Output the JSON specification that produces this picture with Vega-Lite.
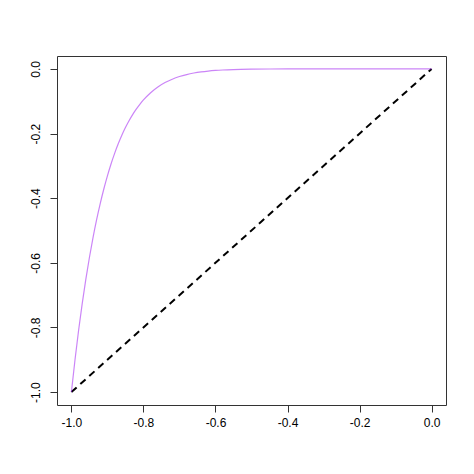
{
  "$schema": "https://vega.github.io/schema/vega-lite/v6.json",
  "width": 389,
  "height": 349,
  "padding": {"left": 57, "top": 56, "right": 28, "bottom": 69},
  "autosize": {"type": "none"},
  "background": "white",
  "config": {
    "locale": {"number": {"decimal": ".", "thousands": ",", "grouping": [3], "currency": ["$", ""], "minus": "-"}},
    "view": {"stroke": "#333333", "strokeWidth": 1},
    "axis": {
      "grid": false,
      "domain": false,
      "tickColor": "#333333",
      "tickSize": 7,
      "labelFont": "Liberation Sans",
      "labelFontSize": 12,
      "labelColor": "#000000",
      "title": null
    }
  },
  "datasets": {
    "curve": [
      {"x": -1.00, "y": -1.0},
      {"x": -0.99, "y": -0.8999},
      {"x": -0.98, "y": -0.8088},
      {"x": -0.97, "y": -0.7263},
      {"x": -0.96, "y": -0.6514},
      {"x": -0.95, "y": -0.5836},
      {"x": -0.94, "y": -0.5222},
      {"x": -0.93, "y": -0.4667},
      {"x": -0.92, "y": -0.4167},
      {"x": -0.91, "y": -0.3715},
      {"x": -0.90, "y": -0.3308},
      {"x": -0.89, "y": -0.2942},
      {"x": -0.88, "y": -0.2613},
      {"x": -0.87, "y": -0.2317},
      {"x": -0.86, "y": -0.2052},
      {"x": -0.85, "y": -0.1815},
      {"x": -0.84, "y": -0.1603},
      {"x": -0.83, "y": -0.1413},
      {"x": -0.82, "y": -0.1245},
      {"x": -0.81, "y": -0.1094},
      {"x": -0.80, "y": -0.0960},
      {"x": -0.78, "y": -0.0736},
      {"x": -0.76, "y": -0.0560},
      {"x": -0.74, "y": -0.0423},
      {"x": -0.72, "y": -0.0318},
      {"x": -0.70, "y": -0.0236},
      {"x": -0.68, "y": -0.0174},
      {"x": -0.66, "y": -0.0127},
      {"x": -0.64, "y": -0.0092},
      {"x": -0.62, "y": -0.0066},
      {"x": -0.60, "y": -0.0047},
      {"x": -0.58, "y": -0.0033},
      {"x": -0.55, "y": -0.0019},
      {"x": -0.50, "y": -0.0007},
      {"x": -0.45, "y": -0.0002},
      {"x": -0.40, "y": -0.0001},
      {"x": -0.30, "y": 0.0},
      {"x": -0.20, "y": 0.0},
      {"x": -0.10, "y": 0.0},
      {"x": 0.00, "y": 0.0}
    ],
    "diag": [
      {"x": -1.0, "y": -1.0},
      {"x": 0.0, "y": 0.0}
    ]
  },
  "encoding": {
    "x": {
      "field": "x",
      "type": "quantitative",
      "scale": {"domain": [-1.04, 0.04], "nice": false, "zero": false},
      "axis": {"values": [-1, -0.8, -0.6, -0.4, -0.2, 0], "format": ".1f", "labelPadding": 5}
    },
    "y": {
      "field": "y",
      "type": "quantitative",
      "scale": {"domain": [-1.04, 0.04], "nice": false, "zero": false},
      "axis": {"values": [-1, -0.8, -0.6, -0.4, -0.2, 0], "format": ".1f", "labelAngle": 270, "labelAlign": "center", "labelBaseline": "bottom", "labelPadding": 8}
    }
  },
  "layer": [
    {
      "data": {"name": "diag"},
      "mark": {"type": "line", "color": "#000000", "strokeWidth": 2, "strokeDash": [7, 5]}
    },
    {
      "data": {"name": "curve"},
      "mark": {"type": "line", "color": "#a020f0", "strokeWidth": 1.2, "opacity": 0.55, "interpolate": "monotone"}
    }
  ]
}
